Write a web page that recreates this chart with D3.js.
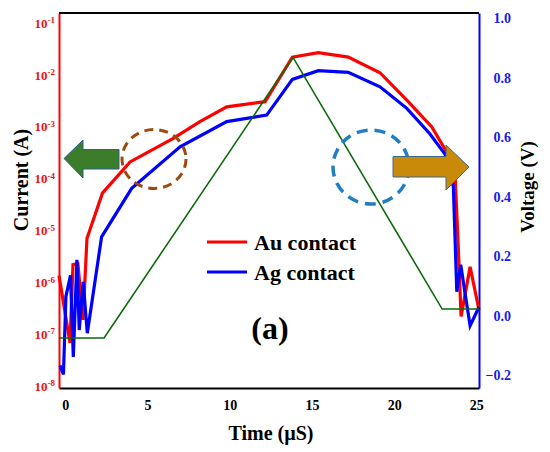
<!DOCTYPE html>
<html>
<head>
<meta charset="utf-8">
<script src="https://cdn.jsdelivr.net/npm/d3@7"></script>
<style>
  body { margin: 0; background: #fff; }
  text { font-family: "Liberation Serif", "Times New Roman", serif; font-weight: bold; }
</style>
</head>
<body>
<div id="chart"></div>
<script>
const width = 550;
const height = 452;

// data: time in µs, current in A, voltage in V
const auTime = [-0.38, 0.29, 0.47, 0.77, 1.08, 1.32, 2.26, 3.94, 6.57, 8.19, 9.82, 12.15, 13.81, 15.39, 17.21, 19.14, 20.77, 22.29, 23.2, 23.7, 23.9, 24.07, 24.62, 25.16];
const auCurrent = [1.3e-6, 6.5e-8, 2.1e-6, 2.2e-6, 1.8e-7, 6.7e-6, 5.0e-5, 2.0e-4, 5.7e-4, 1.2e-3, 2.3e-3, 2.9e-3, 2.1e-2, 2.55e-2, 2.1e-2, 1.05e-2, 3.1e-3, 9.5e-4, 3.1e-4, 1.2e-4, 4.6e-6, 2.1e-7, 1.9e-6, 2.8e-7];
const agTime = [-0.32, -0.11, 0.04, 0.32, 0.49, 0.71, 0.85, 1.09, 1.34, 2.21, 4.04, 6.98, 9.82, 12.25, 13.81, 15.39, 17.21, 19.14, 20.77, 22.18, 23.1, 23.6, 23.81, 24.05, 24.31, 24.62, 25.16];
const agCurrent = [2.4e-8, 1.6e-8, 5.1e-7, 1.3e-6, 3.5e-8, 2.6e-6, 1.15e-7, 9.8e-7, 1.0e-7, 7.2e-6, 6.2e-5, 3.9e-4, 1.2e-3, 1.6e-3, 7.8e-3, 1.15e-2, 1.07e-2, 5.6e-3, 2.16e-3, 6.9e-4, 2.8e-4, 6.7e-5, 6.3e-7, 2.1e-6, 5.9e-7, 1.4e-7, 3.2e-7];
const pulseTime = [-0.38, 2.36, 13.85, 22.92, 25.16];
const pulseVoltage = [-0.074, -0.074, 0.868, 0.023, 0.023];

const timeTicks = [0, 5, 10, 15, 20, 25];
const currentTicks = [1e-1, 1e-2, 1e-3, 1e-4, 1e-5, 1e-6, 1e-7, 1e-8];
const voltageTicks = [1.0, 0.8, 0.6, 0.4, 0.2, 0.0, -0.2];
const seriesNames = ["Au contact", "Ag contact"];

const plotLeft = 59, plotRight = 479, plotTop = 13, plotBottom = 388;

let svg = d3.select("#chart").append("svg").attr("width", width).attr("height", height);

let x = d3.scaleLinear().domain([-0.38, 25.16]).range([plotLeft, plotRight]);
let yI = d3.scaleLog().domain([Math.pow(10, -8.056), Math.pow(10, -0.828)]).range([plotBottom, plotTop]);
let yV = d3.scaleLinear().domain([-0.242, 1.017]).range([plotBottom, plotTop]);

// axes
let xAxis = svg.append("g").attr("transform", `translate(0,${plotBottom})`)
  .call(d3.axisBottom(x).tickValues(timeTicks).tickSize(0).tickPadding(12));
xAxis.select(".domain").attr("stroke", "#000").attr("stroke-width", 2);
xAxis.selectAll("text").attr("font-size", 14).attr("fill", "#000");

let lAxis = svg.append("g").attr("transform", `translate(${plotLeft},0)`)
  .call(d3.axisLeft(yI).tickValues(currentTicks).tickSize(0).tickPadding(4).tickFormat(""));
lAxis.select(".domain").attr("stroke", "#ff0000").attr("stroke-width", 2);
lAxis.selectAll(".tick text").each(function(d) {
  let t = d3.select(this).attr("fill", "#ee1111").attr("font-size", 13).attr("dy", "0.4em");
  t.append("tspan").text("10");
  t.append("tspan").attr("font-size", 9).attr("dy", "-0.5em").text(Math.round(Math.log10(d)));
});

let rAxis = svg.append("g").attr("transform", `translate(${plotRight},0)`)
  .call(d3.axisRight(yV).tickValues(voltageTicks).tickSize(0).tickFormat(d3.format(".1f")));
rAxis.select(".domain").attr("stroke", "#0000ff").attr("stroke-width", 2);
rAxis.selectAll("text").attr("font-size", 14).attr("fill", "#1a1ae6")
  .attr("text-anchor", "end").attr("x", 32);

svg.append("line").attr("x1", plotLeft).attr("x2", plotRight).attr("y1", plotTop).attr("y2", plotTop)
  .attr("stroke", "#000").attr("stroke-width", 2);

// axis titles
svg.append("text").attr("x", 271).attr("y", 440).attr("text-anchor", "middle")
  .attr("font-size", 20).text("Time (\u00b5S)");
svg.append("text").attr("transform", "translate(28,180) rotate(-90)").attr("text-anchor", "middle")
  .attr("font-size", 20).text("Current (A)");
svg.append("text").attr("transform", "translate(534,187) rotate(-90)").attr("text-anchor", "middle")
  .attr("font-size", 19).text("Voltage (V)");

// curves
let lineI = d3.line().x(d => x(d[0])).y(d => yI(d[1]));
let lineV = d3.line().x(d => x(d[0])).y(d => yV(d[1]));

svg.append("path").datum(d3.zip(auTime, auCurrent)).attr("d", lineI)
  .attr("fill", "none").attr("stroke", "#ff0000").attr("stroke-width", 3.2).attr("stroke-linejoin", "miter");
svg.append("path").datum(d3.zip(agTime, agCurrent)).attr("d", lineI)
  .attr("fill", "none").attr("stroke", "#0000ff").attr("stroke-width", 3.2).attr("stroke-linejoin", "miter");
svg.append("path").datum(d3.zip(pulseTime, pulseVoltage)).attr("d", lineV)
  .attr("fill", "none").attr("stroke", "#0b6b0b").attr("stroke-width", 1.6);

// legend
const legendColors = ["#ff0000", "#0000ff"];
seriesNames.forEach((name, i) => {
  let yy = 242 + i * 30;
  svg.append("line").attr("x1", 207).attr("x2", 247).attr("y1", yy).attr("y2", yy)
    .attr("stroke", legendColors[i]).attr("stroke-width", 3);
  svg.append("text").attr("x", 254).attr("y", yy + 8).attr("font-size", 22).text(name);
});

svg.append("text").attr("x", 270).attr("y", 339).attr("text-anchor", "middle")
  .attr("font-size", 32).text("(a)");

// dashed circles
svg.append("ellipse").attr("cx", 154).attr("cy", 159).attr("rx", 32).attr("ry", 29.5)
  .attr("fill", "none").attr("stroke", "#9c4a10").attr("stroke-width", 3).attr("stroke-dasharray", "9,6");
svg.append("ellipse").attr("cx", 371).attr("cy", 167).attr("rx", 38).attr("ry", 37)
  .attr("fill", "none").attr("stroke", "#1f7fc0").attr("stroke-width", 3.5).attr("stroke-dasharray", "11,7");

// block arrows
svg.append("path")
  .attr("d", "M64,158.5 L83,140 L83,149.5 L119,149.5 L119,169 L83,169 L83,178 Z")
  .attr("fill", "#3b7d2b").attr("stroke", "#2f5f8a").attr("stroke-width", 1);
svg.append("path")
  .attr("d", "M469,167 L446,145 L446,156.5 L393,156.5 L393,177 L446,177 L446,190 Z")
  .attr("fill", "#c98a0a").attr("stroke", "#3a6b8a").attr("stroke-width", 1);
</script>
</body>
</html>
